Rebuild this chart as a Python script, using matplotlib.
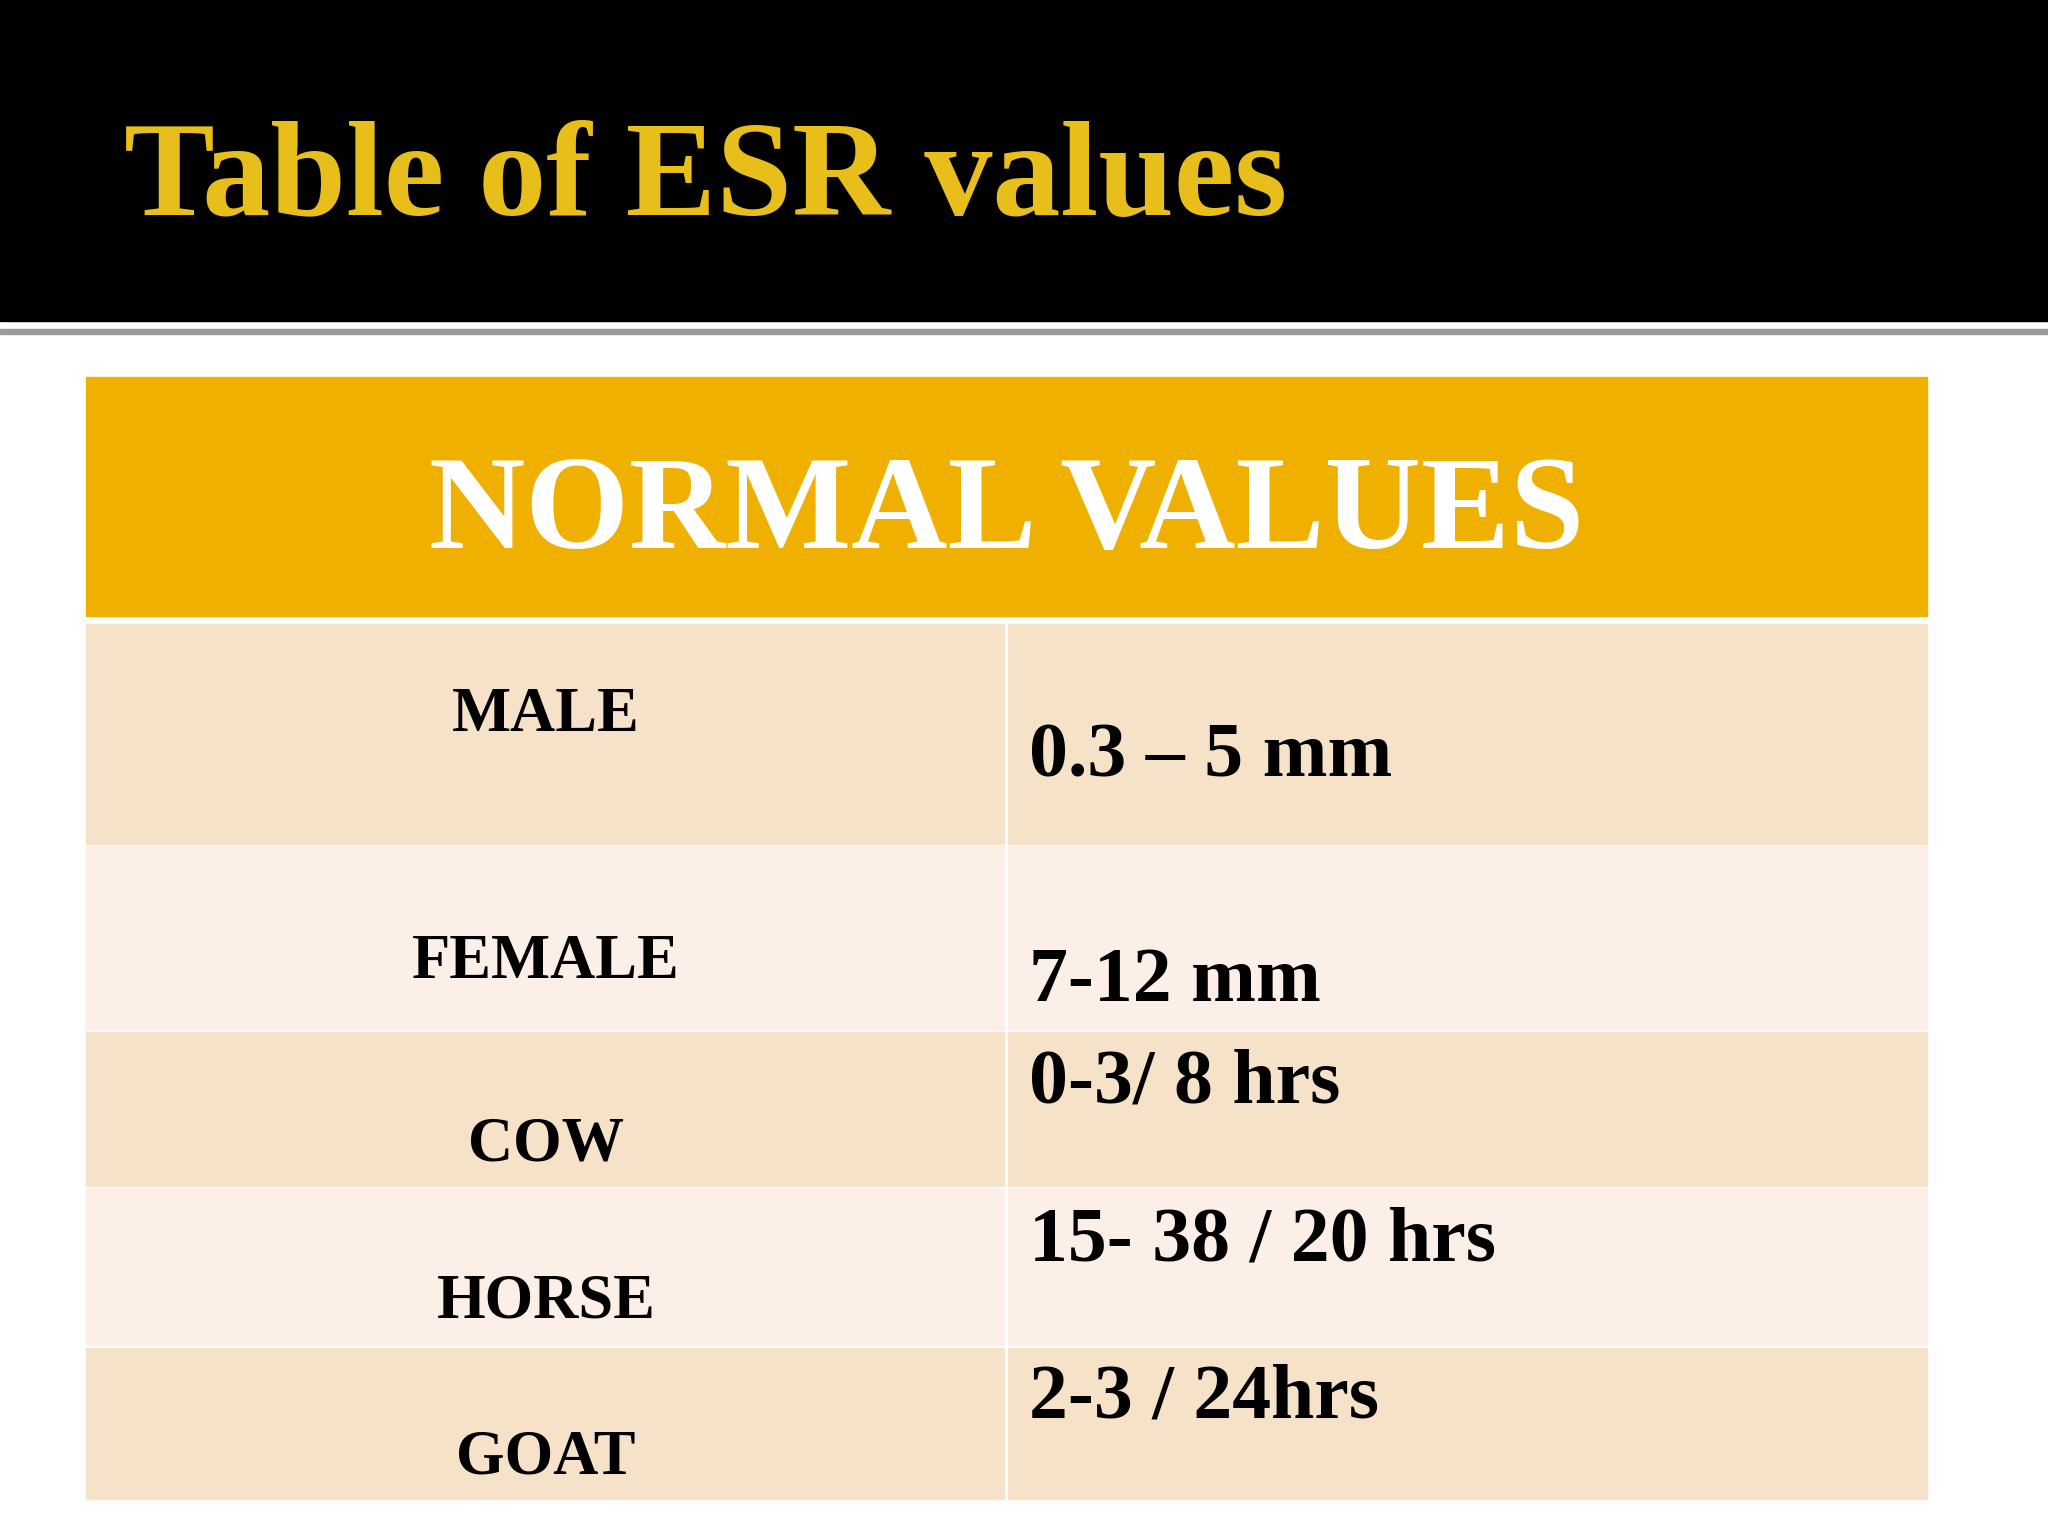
import matplotlib
matplotlib.use("Agg")
import matplotlib.pyplot as plt
from matplotlib.patches import Rectangle

title = "Table of ESR values"
header = "NORMAL VALUES"
categories = ["MALE", "FEMALE", "COW", "HORSE", "GOAT"]
values = ["0.3 – 5 mm", "7-12 mm", "0-3/ 8 hrs", "15- 38 / 20 hrs", "2-3 / 24hrs"]

W, H = 1568.0, 1176.0
fig = plt.figure(figsize=(20.48, 15.36), dpi=100)
ax = fig.add_axes([0, 0, 1, 1])
ax.set_xlim(0, W); ax.set_ylim(H, 0); ax.axis("off")
serif = ["Liberation Serif", "DejaVu Serif"]

ax.add_patch(Rectangle((0, 0), W, 246, color="black"))
ax.add_patch(Rectangle((0, 252), W, 4, color="#9a9a9a"))
ax.text(95, 140, title, color="#E8BE1A", fontsize=98, fontweight="bold",
        family=serif, va="center", ha="left")

x0, xm, x1 = 66, 770, 1475
ax.add_patch(Rectangle((x0, 289), x1 - x0, 183, color="#F0B000"))
ax.text((x0 + x1) / 2, 395, header, color="white", fontsize=96, fontweight="bold",
        family=serif, ha="center", va="center")

rows = [(478, 646), (648, 788), (790, 908), (910, 1030), (1032, 1148)]
cat_y = [548, 737, 877, 997, 1117]
val_y = [580, 752, 830, 951, 1071]
fills = ["#F6E1C9", "#FBEFE7"]
for i, (a, b) in enumerate(rows):
    c = fills[i % 2]
    ax.add_patch(Rectangle((x0, a), xm - 1 - x0, b - a, color=c))
    ax.add_patch(Rectangle((xm + 2, a), x1 - xm - 2, b - a, color=c))
    ax.text(418, cat_y[i], categories[i], fontsize=45, fontweight="bold",
            family=serif, ha="center", va="center", color="black")
    ax.text(788, val_y[i], values[i], fontsize=56, fontweight="bold",
            family=serif, ha="left", va="center", color="black")

fig.savefig("out.png", dpi=100, facecolor="white")
